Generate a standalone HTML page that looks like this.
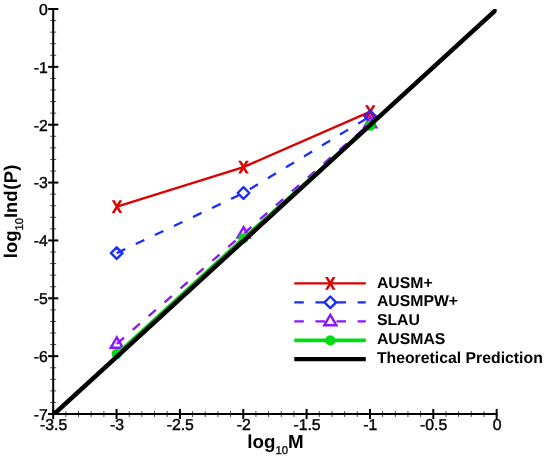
<!DOCTYPE html><html><head><meta charset="utf-8"><title>plot</title>
<style>html,body{margin:0;padding:0;background:#fff}svg{display:block}text{font-family:"Liberation Sans",Arial,sans-serif;fill:#000;text-rendering:geometricPrecision}</style></head><body>
<svg width="550" height="456" viewBox="0 0 550 456">
<rect width="550" height="456" fill="#fff"/>
<g stroke="#000" fill="none">
<line x1="53.20" y1="8.20" x2="53.20" y2="414.82" stroke-width="2.0"/>
<line x1="52.40" y1="414.02" x2="497.45" y2="414.02" stroke-width="2.0"/>
<line x1="53.20" y1="408.92" x2="53.20" y2="419.12" stroke-width="2.0"/>
<line x1="65.87" y1="411.02" x2="65.87" y2="417.02" stroke-width="0.7"/>
<line x1="78.54" y1="411.02" x2="78.54" y2="417.02" stroke-width="0.7"/>
<line x1="91.21" y1="411.02" x2="91.21" y2="417.02" stroke-width="0.7"/>
<line x1="103.88" y1="411.02" x2="103.88" y2="417.02" stroke-width="0.7"/>
<line x1="116.55" y1="408.92" x2="116.55" y2="419.12" stroke-width="2.0"/>
<line x1="129.22" y1="411.02" x2="129.22" y2="417.02" stroke-width="0.7"/>
<line x1="141.89" y1="411.02" x2="141.89" y2="417.02" stroke-width="0.7"/>
<line x1="154.56" y1="411.02" x2="154.56" y2="417.02" stroke-width="0.7"/>
<line x1="167.23" y1="411.02" x2="167.23" y2="417.02" stroke-width="0.7"/>
<line x1="179.90" y1="408.92" x2="179.90" y2="419.12" stroke-width="2.0"/>
<line x1="192.57" y1="411.02" x2="192.57" y2="417.02" stroke-width="0.7"/>
<line x1="205.24" y1="411.02" x2="205.24" y2="417.02" stroke-width="0.7"/>
<line x1="217.91" y1="411.02" x2="217.91" y2="417.02" stroke-width="0.7"/>
<line x1="230.58" y1="411.02" x2="230.58" y2="417.02" stroke-width="0.7"/>
<line x1="243.25" y1="408.92" x2="243.25" y2="419.12" stroke-width="2.0"/>
<line x1="255.92" y1="411.02" x2="255.92" y2="417.02" stroke-width="0.7"/>
<line x1="268.59" y1="411.02" x2="268.59" y2="417.02" stroke-width="0.7"/>
<line x1="281.26" y1="411.02" x2="281.26" y2="417.02" stroke-width="0.7"/>
<line x1="293.93" y1="411.02" x2="293.93" y2="417.02" stroke-width="0.7"/>
<line x1="306.60" y1="408.92" x2="306.60" y2="419.12" stroke-width="2.0"/>
<line x1="319.27" y1="411.02" x2="319.27" y2="417.02" stroke-width="0.7"/>
<line x1="331.94" y1="411.02" x2="331.94" y2="417.02" stroke-width="0.7"/>
<line x1="344.61" y1="411.02" x2="344.61" y2="417.02" stroke-width="0.7"/>
<line x1="357.28" y1="411.02" x2="357.28" y2="417.02" stroke-width="0.7"/>
<line x1="369.95" y1="408.92" x2="369.95" y2="419.12" stroke-width="2.0"/>
<line x1="382.62" y1="411.02" x2="382.62" y2="417.02" stroke-width="0.7"/>
<line x1="395.29" y1="411.02" x2="395.29" y2="417.02" stroke-width="0.7"/>
<line x1="407.96" y1="411.02" x2="407.96" y2="417.02" stroke-width="0.7"/>
<line x1="420.63" y1="411.02" x2="420.63" y2="417.02" stroke-width="0.7"/>
<line x1="433.30" y1="408.92" x2="433.30" y2="419.12" stroke-width="2.0"/>
<line x1="445.97" y1="411.02" x2="445.97" y2="417.02" stroke-width="0.7"/>
<line x1="458.64" y1="411.02" x2="458.64" y2="417.02" stroke-width="0.7"/>
<line x1="471.31" y1="411.02" x2="471.31" y2="417.02" stroke-width="0.7"/>
<line x1="483.98" y1="411.02" x2="483.98" y2="417.02" stroke-width="0.7"/>
<line x1="496.65" y1="408.92" x2="496.65" y2="419.12" stroke-width="2.0"/>
<line x1="48.10" y1="414.02" x2="58.30" y2="414.02" stroke-width="2.0"/>
<line x1="50.20" y1="402.45" x2="56.20" y2="402.45" stroke-width="0.7"/>
<line x1="50.20" y1="390.88" x2="56.20" y2="390.88" stroke-width="0.7"/>
<line x1="50.20" y1="379.30" x2="56.20" y2="379.30" stroke-width="0.7"/>
<line x1="50.20" y1="367.73" x2="56.20" y2="367.73" stroke-width="0.7"/>
<line x1="48.10" y1="356.16" x2="58.30" y2="356.16" stroke-width="2.0"/>
<line x1="50.20" y1="344.59" x2="56.20" y2="344.59" stroke-width="0.7"/>
<line x1="50.20" y1="333.02" x2="56.20" y2="333.02" stroke-width="0.7"/>
<line x1="50.20" y1="321.44" x2="56.20" y2="321.44" stroke-width="0.7"/>
<line x1="50.20" y1="309.87" x2="56.20" y2="309.87" stroke-width="0.7"/>
<line x1="48.10" y1="298.30" x2="58.30" y2="298.30" stroke-width="2.0"/>
<line x1="50.20" y1="286.73" x2="56.20" y2="286.73" stroke-width="0.7"/>
<line x1="50.20" y1="275.16" x2="56.20" y2="275.16" stroke-width="0.7"/>
<line x1="50.20" y1="263.58" x2="56.20" y2="263.58" stroke-width="0.7"/>
<line x1="50.20" y1="252.01" x2="56.20" y2="252.01" stroke-width="0.7"/>
<line x1="48.10" y1="240.44" x2="58.30" y2="240.44" stroke-width="2.0"/>
<line x1="50.20" y1="228.87" x2="56.20" y2="228.87" stroke-width="0.7"/>
<line x1="50.20" y1="217.30" x2="56.20" y2="217.30" stroke-width="0.7"/>
<line x1="50.20" y1="205.72" x2="56.20" y2="205.72" stroke-width="0.7"/>
<line x1="50.20" y1="194.15" x2="56.20" y2="194.15" stroke-width="0.7"/>
<line x1="48.10" y1="182.58" x2="58.30" y2="182.58" stroke-width="2.0"/>
<line x1="50.20" y1="171.01" x2="56.20" y2="171.01" stroke-width="0.7"/>
<line x1="50.20" y1="159.44" x2="56.20" y2="159.44" stroke-width="0.7"/>
<line x1="50.20" y1="147.86" x2="56.20" y2="147.86" stroke-width="0.7"/>
<line x1="50.20" y1="136.29" x2="56.20" y2="136.29" stroke-width="0.7"/>
<line x1="48.10" y1="124.72" x2="58.30" y2="124.72" stroke-width="2.0"/>
<line x1="50.20" y1="113.15" x2="56.20" y2="113.15" stroke-width="0.7"/>
<line x1="50.20" y1="101.58" x2="56.20" y2="101.58" stroke-width="0.7"/>
<line x1="50.20" y1="90.00" x2="56.20" y2="90.00" stroke-width="0.7"/>
<line x1="50.20" y1="78.43" x2="56.20" y2="78.43" stroke-width="0.7"/>
<line x1="48.10" y1="66.86" x2="58.30" y2="66.86" stroke-width="2.0"/>
<line x1="50.20" y1="55.29" x2="56.20" y2="55.29" stroke-width="0.7"/>
<line x1="50.20" y1="43.72" x2="56.20" y2="43.72" stroke-width="0.7"/>
<line x1="50.20" y1="32.14" x2="56.20" y2="32.14" stroke-width="0.7"/>
<line x1="50.20" y1="20.57" x2="56.20" y2="20.57" stroke-width="0.7"/>
<line x1="48.10" y1="9.00" x2="58.30" y2="9.00" stroke-width="2.0"/>
</g>
<text x="53.60" y="430.12" font-size="15.8" text-anchor="middle" stroke="#000" stroke-width="0.4">-3.5</text>
<text x="116.95" y="430.12" font-size="15.8" text-anchor="middle" stroke="#000" stroke-width="0.4">-3</text>
<text x="180.30" y="430.12" font-size="15.8" text-anchor="middle" stroke="#000" stroke-width="0.4">-2.5</text>
<text x="243.65" y="430.12" font-size="15.8" text-anchor="middle" stroke="#000" stroke-width="0.4">-2</text>
<text x="307.00" y="430.12" font-size="15.8" text-anchor="middle" stroke="#000" stroke-width="0.4">-1.5</text>
<text x="370.35" y="430.12" font-size="15.8" text-anchor="middle" stroke="#000" stroke-width="0.4">-1</text>
<text x="433.70" y="430.12" font-size="15.8" text-anchor="middle" stroke="#000" stroke-width="0.4">-0.5</text>
<text x="497.05" y="430.12" font-size="15.8" text-anchor="middle" stroke="#000" stroke-width="0.4">0</text>
<text x="47.90" y="14.80" font-size="15.8" text-anchor="end" stroke="#000" stroke-width="0.4">0</text>
<text x="47.90" y="72.66" font-size="15.8" text-anchor="end" stroke="#000" stroke-width="0.4">-1</text>
<text x="47.90" y="130.52" font-size="15.8" text-anchor="end" stroke="#000" stroke-width="0.4">-2</text>
<text x="47.90" y="188.38" font-size="15.8" text-anchor="end" stroke="#000" stroke-width="0.4">-3</text>
<text x="47.90" y="246.24" font-size="15.8" text-anchor="end" stroke="#000" stroke-width="0.4">-4</text>
<text x="47.90" y="304.10" font-size="15.8" text-anchor="end" stroke="#000" stroke-width="0.4">-5</text>
<text x="47.90" y="361.96" font-size="15.8" text-anchor="end" stroke="#000" stroke-width="0.4">-6</text>
<text x="47.90" y="419.82" font-size="15.8" text-anchor="end" stroke="#000" stroke-width="0.4">-7</text>
<text transform="translate(247.3,447.9)" font-size="18.8" font-weight="bold">log<tspan font-size="11.3" font-weight="normal" dy="6.4" stroke="#000" stroke-width="0.3">10</tspan><tspan dy="-6.4">M</tspan></text>
<text transform="translate(16.7,258.2) rotate(-90)" font-size="18.4" font-weight="bold">log<tspan font-size="11.3" font-weight="normal" dy="6.4" stroke="#000" stroke-width="0.3">10</tspan><tspan dy="-6.4">Ind<tspan dx="0.7" letter-spacing="0.35">(P)</tspan></tspan></text>
<polyline points="117.00,206.60 243.50,167.10 370.30,111.60" stroke="#dd0000" stroke-width="2.3" fill="none"/>
<path d="M111.70 200.20L114.60 200.20L122.30 213.00L119.40 213.00ZM119.40 200.20L122.30 200.20L114.60 213.00L111.70 213.00Z" fill="#dd0000"/>
<path d="M238.20 160.70L241.10 160.70L248.80 173.50L245.90 173.50ZM245.90 160.70L248.80 160.70L241.10 173.50L238.20 173.50Z" fill="#dd0000"/>
<path d="M365.00 105.20L367.90 105.20L375.60 118.00L372.70 118.00ZM372.70 105.20L375.60 105.20L367.90 118.00L365.00 118.00Z" fill="#dd0000"/>
<polyline points="116.70,253.10 243.50,193.00 370.20,116.30" stroke="#1a2cff" stroke-width="2.3" fill="none" stroke-dasharray="9.5 11.6"/>
<path d="M116.70 247.30L122.50 253.10L116.70 258.90L110.90 253.10Z" stroke="#1a2cff" stroke-width="2.4" stroke-linejoin="round" fill="none"/>
<path d="M243.50 187.20L249.30 193.00L243.50 198.80L237.70 193.00Z" stroke="#1a2cff" stroke-width="2.4" stroke-linejoin="round" fill="none"/>
<path d="M370.20 110.50L376.00 116.30L370.20 122.10L364.40 116.30Z" stroke="#1a2cff" stroke-width="2.4" stroke-linejoin="round" fill="none"/>
<polyline points="116.80,343.80 243.60,233.60 370.20,123.20" stroke="#8c14ff" stroke-width="2.3" fill="none" stroke-dasharray="9.5 11.6"/>
<path d="M116.80 337.30L122.85 347.80L110.75 347.80Z" stroke="#8c14ff" stroke-width="2.4" fill="none"/>
<path d="M243.60 227.10L249.65 237.60L237.55 237.60Z" stroke="#8c14ff" stroke-width="2.4" fill="none"/>
<path d="M370.20 116.70L376.25 127.20L364.15 127.20Z" stroke="#8c14ff" stroke-width="2.4" fill="none"/>
<polyline points="116.70,354.50 243.40,238.40 370.20,125.70" stroke="#00dc14" stroke-width="3.8" fill="none"/>
<circle cx="116.70" cy="353.80" r="5.15" fill="#00dc14"/>
<circle cx="243.40" cy="238.40" r="5.15" fill="#00dc14"/>
<circle cx="370.20" cy="125.70" r="5.15" fill="#00dc14"/>
<clipPath id="c"><rect x="53.20" y="9.00" width="443.45" height="405.02"/></clipPath>
<line clip-path="url(#c)" x1="40.53" y1="426.51" x2="509.32" y2="-2.34" stroke="#000" stroke-width="4.5"/>
<line x1="294.3" y1="283.3" x2="365.8" y2="283.3" stroke="#dd0000" stroke-width="2.3"/>
<path d="M325.00 276.90L327.90 276.90L335.60 289.70L332.70 289.70ZM332.70 276.90L335.60 276.90L327.90 289.70L325.00 289.70Z" fill="#dd0000"/>
<line x1="294.3" y1="302.3" x2="365.8" y2="302.3" stroke="#1a2cff" stroke-width="2.3" stroke-dasharray="9.5 11.6"/>
<path d="M330.30 296.50L336.10 302.30L330.30 308.10L324.50 302.30Z" stroke="#1a2cff" stroke-width="2.4" stroke-linejoin="round" fill="none"/>
<line x1="294.3" y1="321.3" x2="365.8" y2="321.3" stroke="#8c14ff" stroke-width="2.3" stroke-dasharray="9.5 11.6"/>
<path d="M330.30 314.80L336.35 325.30L324.25 325.30Z" stroke="#8c14ff" stroke-width="2.4" fill="none"/>
<line x1="294.3" y1="340.3" x2="365.8" y2="340.3" stroke="#00dc14" stroke-width="3.8"/>
<circle cx="330.30" cy="340.30" r="5.15" fill="#00dc14"/>
<line x1="294.3" y1="359.1" x2="365.8" y2="359.1" stroke="#000" stroke-width="4.2"/>
<text x="376.9" y="287.5" font-size="15.8" font-weight="bold">AUSM+</text>
<text x="376.9" y="305.8" font-size="15.8" font-weight="bold">AUSMPW+</text>
<text x="376.9" y="324.8" font-size="15.8" font-weight="bold">SLAU</text>
<text x="376.9" y="344.3" font-size="15.8" font-weight="bold">AUSMAS</text>
<text x="376.9" y="363.2" font-size="15.8" font-weight="bold">Theoretical Prediction</text>
</svg></body></html>
